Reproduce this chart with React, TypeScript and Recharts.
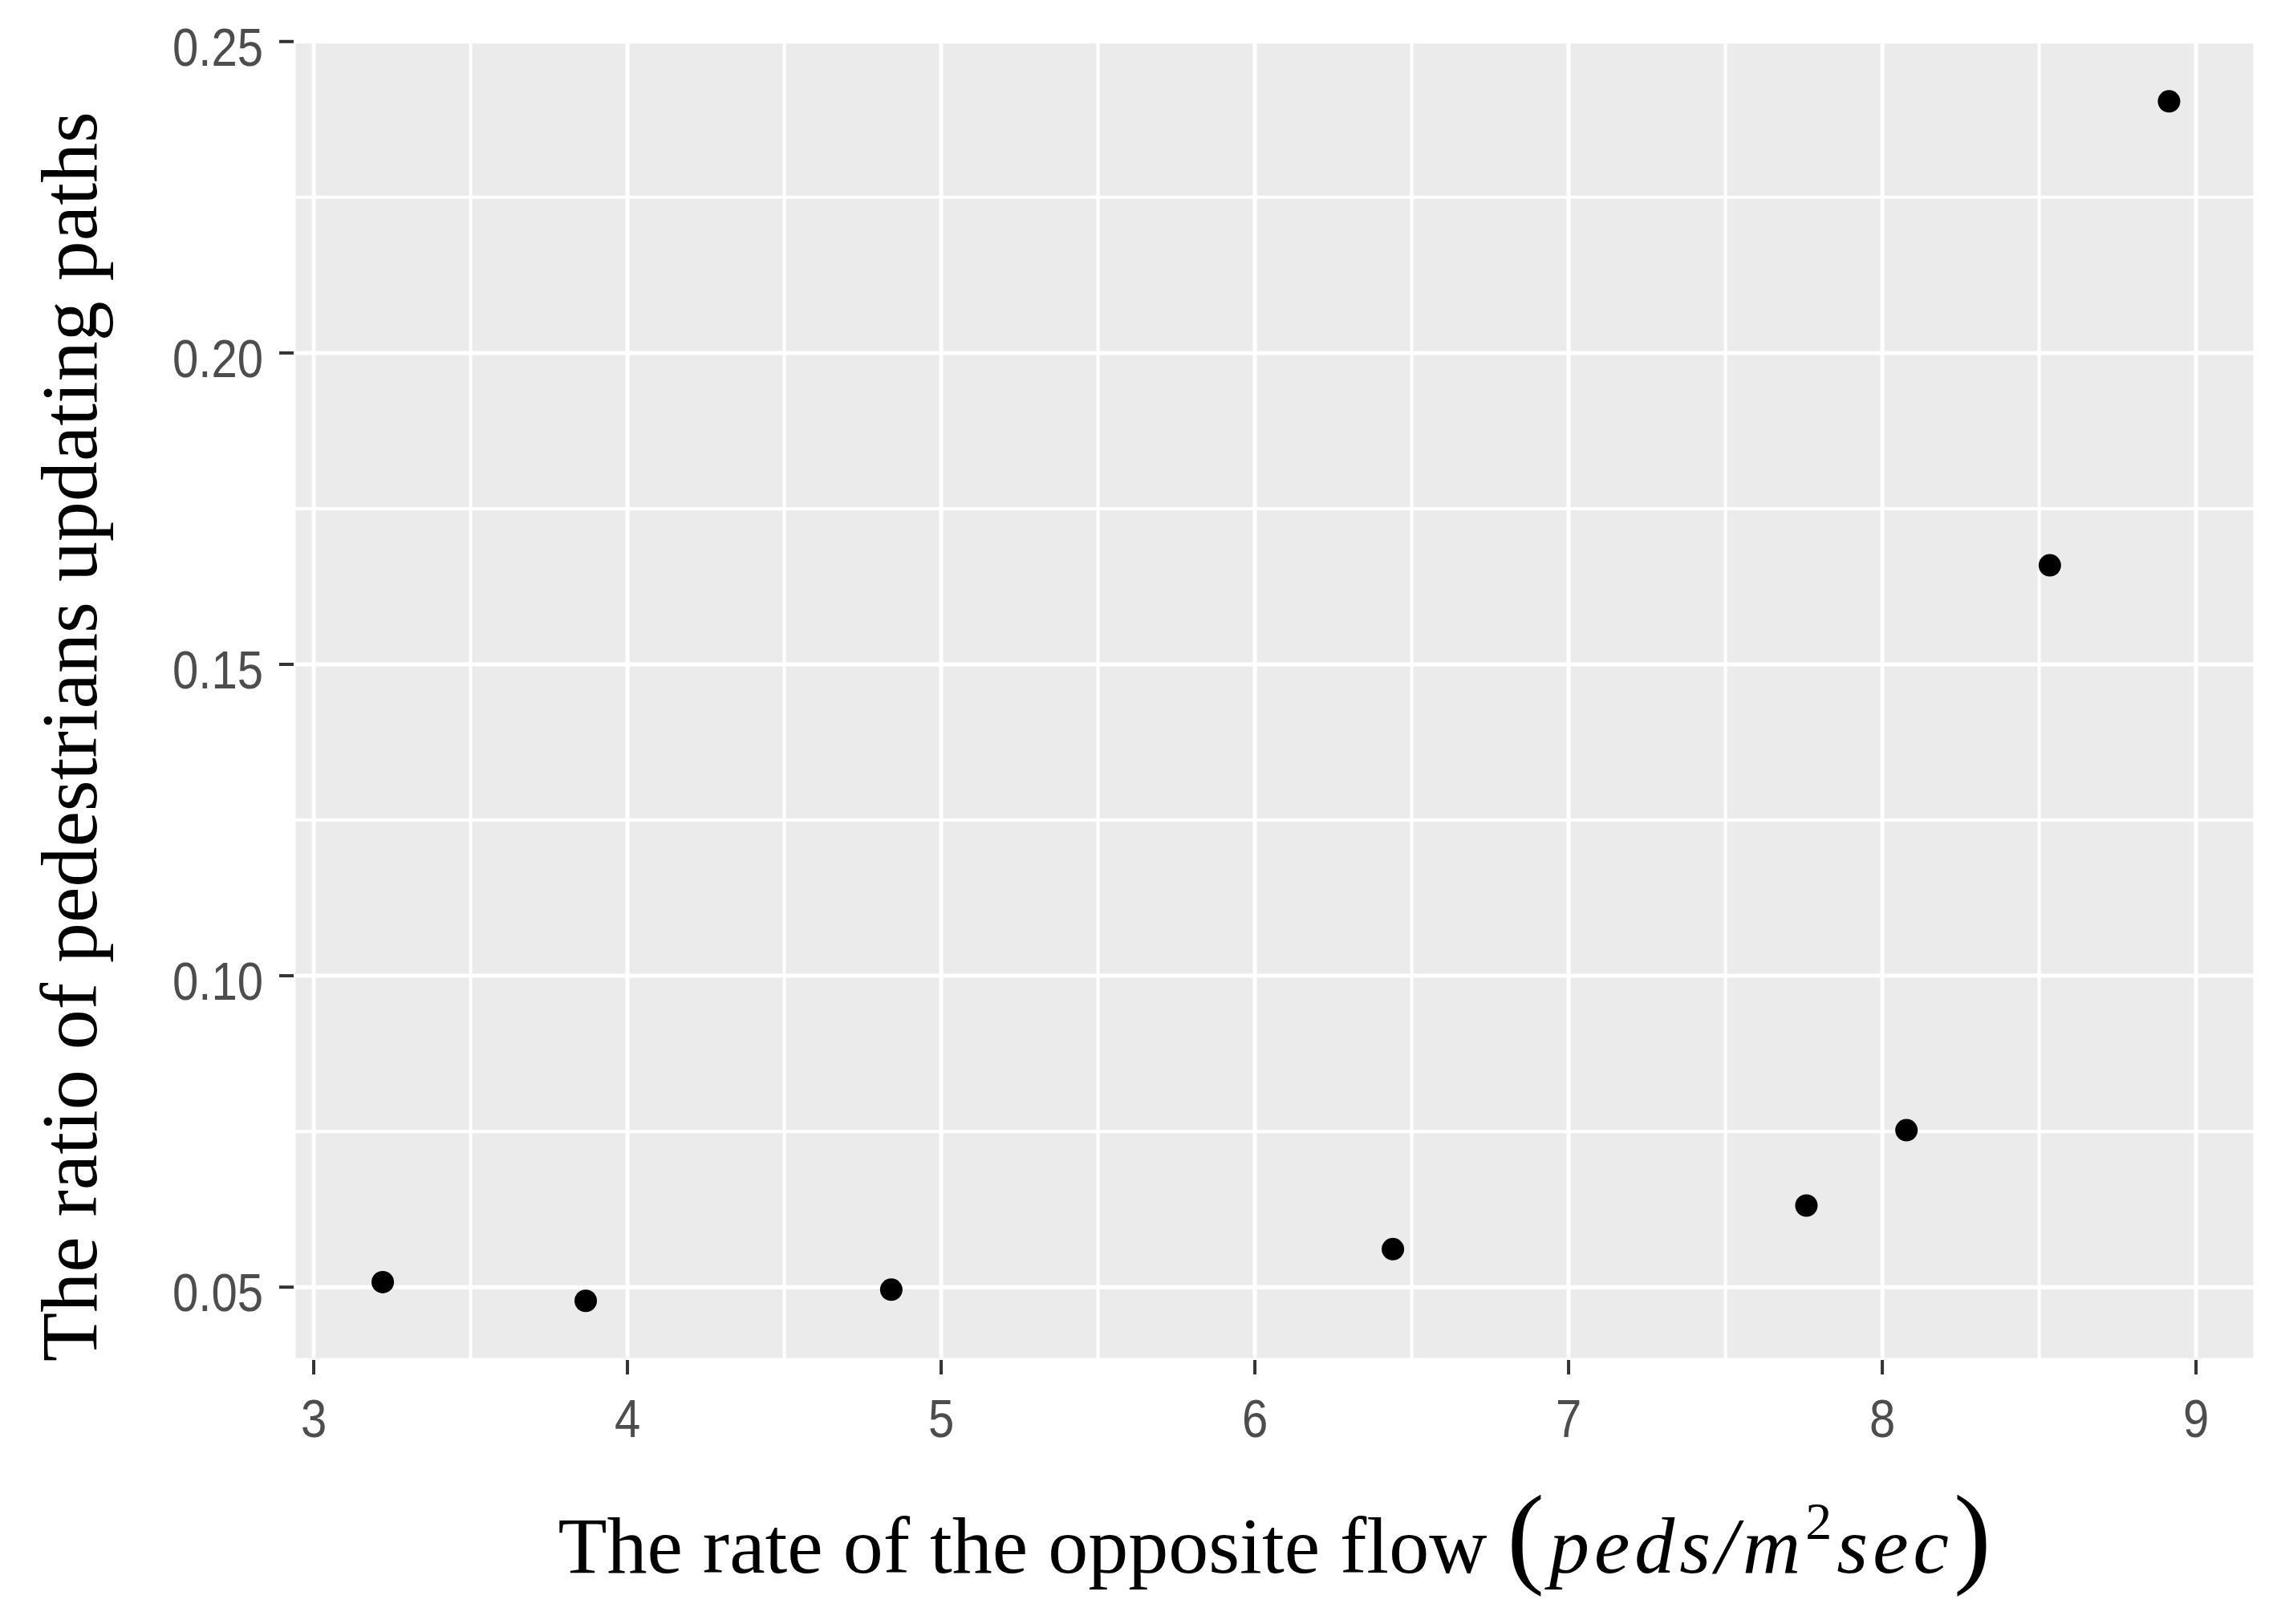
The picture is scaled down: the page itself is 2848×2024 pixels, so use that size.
import { CartesianGrid, Label, ReferenceLine, Scatter, ScatterChart, XAxis, YAxis } from "recharts";

// rate of the opposite flow (peds/m^2 sec)
const flowRate = [3.22, 3.867, 4.841, 6.44, 7.758, 8.077, 8.534, 8.914];
// ratio of pedestrians updating paths
const updateRatio = [0.0508, 0.0478, 0.0496, 0.0561, 0.0631, 0.0752, 0.1659, 0.2404];

const xTicks = [3, 4, 5, 6, 7, 8, 9];
const yTicks = [0.05, 0.1, 0.15, 0.2, 0.25];
const xMinor = [3.5, 4.5, 5.5, 6.5, 7.5, 8.5];
const yMinor = [0.075, 0.125, 0.175, 0.225];

const points = flowRate.map((x, i) => ({ x, y: updateRatio[i] }));

const SANS = "'Liberation Sans', Arial, sans-serif";
const SERIF = "'Liberation Serif', 'Times New Roman', serif";

const XTick = (props: any) => {
  const { x, y, payload } = props;
  return (
    <g transform={`translate(${x},${y}) scale(0.88,1)`}>
      <text x={0} y={78} textAnchor="middle" fontFamily={SANS} fontSize={66} fill="#4D4D4D">
        {payload.value}
      </text>
    </g>
  );
};

const YTick = (props: any) => {
  const { x, y, payload } = props;
  return (
    <g transform={`translate(${x - 20},${y}) scale(0.88,1)`}>
      <text x={0} y={30} textAnchor="end" fontFamily={SANS} fontSize={66} fill="#4D4D4D">
        {payload.value.toFixed(2)}
      </text>
    </g>
  );
};

const XTitle = (props: any) => {
  const vb = props.viewBox || { x: 358, y: 1687, width: 2445, height: 313 };
  return (
    <text
      x={vb.x + vb.width / 2}
      y={vb.y + 265}
      textAnchor="middle"
      fontFamily={SERIF}
      fontSize={100}
      fill="#000"
    >
      The rate of the opposite flow{" "}
      <tspan fontSize={140}>(</tspan>
      <tspan fontStyle="italic" letterSpacing={6} dx={6}>peds/m</tspan>
      <tspan fontSize={66} dy={-42}>2</tspan>
      <tspan fontStyle="italic" letterSpacing={6} dy={42} dx={6}>sec</tspan>
      <tspan fontSize={140}>)</tspan>
    </text>
  );
};

const YTitle = (props: any) => {
  const vb = props.viewBox || { x: 0, y: 43, width: 358, height: 1644 };
  const cx = 112;
  const cy = vb.y + vb.height / 2 + 45;
  return (
    <text
      x={cx}
      y={cy}
      transform={`rotate(-90, ${cx}, ${cy})`}
      textAnchor="middle"
      fontFamily={SERIF}
      fontSize={100}
      fill="#000"
    >
      The ratio of pedestrians updating paths
    </text>
  );
};

const Dot = (props: any) => <circle cx={props.cx} cy={props.cy} r={14} fill="#000" />;

const App = () => {
  return (
    <ScatterChart width={2832} height={2000} margin={{ top: 43, right: 29, left: 0, bottom: 0 }}>
      <CartesianGrid fill="#EBEBEB" stroke="#FFFFFF" strokeWidth={5} />
      {xMinor.map((v) => (
        <ReferenceLine key={`xm${v}`} x={v} stroke="#FFFFFF" strokeWidth={4} />
      ))}
      {yMinor.map((v) => (
        <ReferenceLine key={`ym${v}`} y={v} stroke="#FFFFFF" strokeWidth={4} />
      ))}
      <XAxis
        type="number"
        dataKey="x"
        domain={[2.936, 9.189]}
        allowDataOverflow
        ticks={xTicks}
        height={313}
        axisLine={false}
        tickLine={{ stroke: "#333333", strokeWidth: 4 }}
        tickSize={18}
        tickMargin={0}
        tick={<XTick />}
        interval={0}
      >
        <Label content={<XTitle />} />
      </XAxis>
      <YAxis
        type="number"
        dataKey="y"
        domain={[0.0383, 0.2501]}
        allowDataOverflow
        ticks={yTicks}
        width={358}
        axisLine={false}
        tickLine={{ stroke: "#333333", strokeWidth: 4 }}
        tickSize={18}
        tickMargin={0}
        tick={<YTick />}
        interval={0}
      >
        <Label content={<YTitle />} />
      </YAxis>
      <Scatter data={points} fill="#000" shape={<Dot />} isAnimationActive={false} />
    </ScatterChart>
  );
};

export default App;
